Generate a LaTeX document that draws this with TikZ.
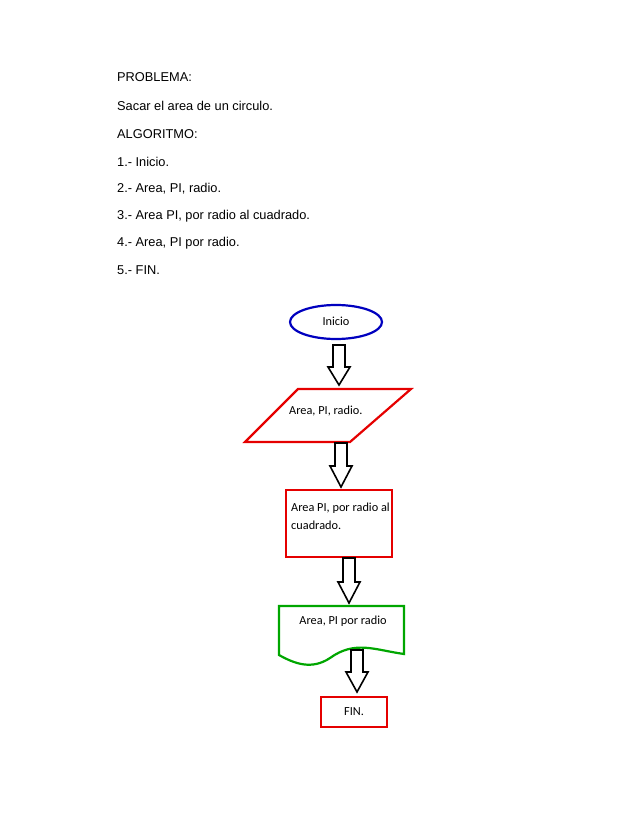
\documentclass[tikz,border=0pt]{standalone}
\usepackage{fontspec}
\setmainfont{Liberation Sans}
\newfontfamily\carlitofont{Carlito}
\usetikzlibrary{shapes.geometric}
\begin{document}
\begin{tikzpicture}[x=1pt,y=-1pt,
  txt/.style={anchor=west,font=\fontsize{12.8}{14}\selectfont,inner sep=0},
  lab/.style={font=\carlitofont\fontsize{12.3}{17.5}\selectfont,inner sep=0},
  redbox/.style={draw=red!90!black,line width=2.2pt},
  barrow/.style={draw=black,line width=1.6pt,fill=white,line join=miter}]
\useasboundingbox (0,0) rectangle (638,826);
\node[txt] (t1) at (117,77) {PROBLEMA:};
\node[txt] (t2) at (117,106) {Sacar el area de un circulo.};
\node[txt] (t3) at (117,134) {ALGORITMO:};
\node[txt] (t4) at (117,162) {1.- Inicio.};
\node[txt] (t5) at (117,189) {2.- Area, PI, radio.};
\node[txt] (t6) at (117,216) {3.- Area PI, por radio al cuadrado.};
\node[txt] (t7) at (117,243) {4.- Area, PI por radio.};
\node[txt] (t8) at (117,270) {5.- FIN.};
% shapes
\draw[draw=blue!75!black,line width=2.2pt] (336,322) ellipse [x radius=46,y radius=17];
\node[lab] (ini) at (336,321) {Inicio};
\draw[redbox] (298,389) -- (411,389) -- (350,442) -- (245,442) -- cycle;
\node[lab,anchor=west] (par) at (289,411) {Area, PI, radio.};
\draw[redbox] (286,490) rectangle (392,557);
\node[lab,anchor=north west,align=left] (rec) at (291,503) {Area PI, por radio al\\cuadrado.};
\draw[draw=green!65!black,line width=2.2pt] (279,606) -- (404,606) -- (404,654)
  .. controls (375,650) and (355,640) .. (330,658)
  .. controls (312,670) and (295,664) .. (279,655) -- cycle;
\node[lab] (doc) at (343,621) {Area, PI por radio};
\draw[redbox] (321,697) rectangle (387,727);
\node[lab] (fin) at (354,712) {FIN.};
% block arrows
\foreach \cx/\ya/\yb/\yc in {339/345/367/385, 341/443/466/487, 349/558/582/603, 357/650/672/692}{
  \draw[barrow] (\cx-6,\ya) -- (\cx+6,\ya) -- (\cx+6,\yb) -- (\cx+11,\yb) -- (\cx,\yc)
    -- (\cx-11,\yb) -- (\cx-6,\yb) -- cycle;}
\end{tikzpicture}
\end{document}
